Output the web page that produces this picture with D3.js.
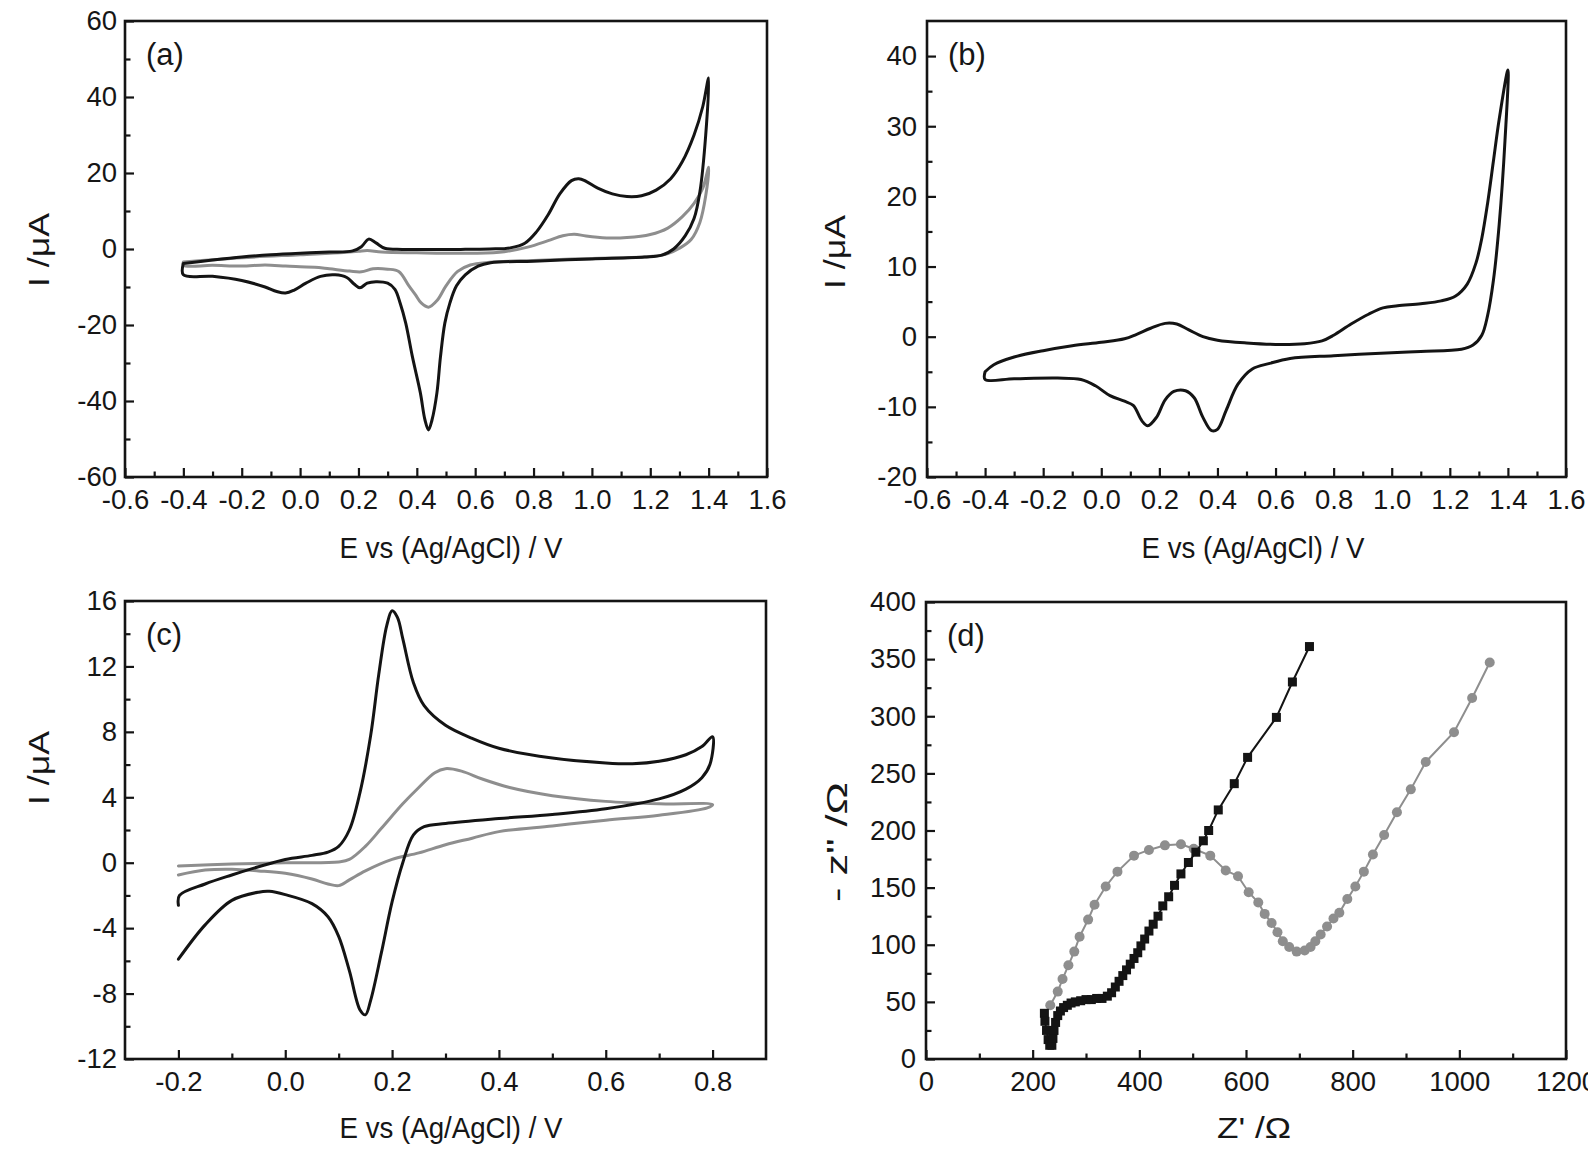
<!DOCTYPE html>
<html><head><meta charset="utf-8">
<script src="https://cdn.jsdelivr.net/npm/d3@7"></script>
<style>
body{margin:0;background:#fff}
text{font-family:"Liberation Sans",Arial,sans-serif;fill:#161616}
</style>
</head><body>
<svg id="chart" width="1588" height="1150"></svg>
<script>
// ---------------- DATA ----------------
// Panel (a): CV, black and gray
const aBlackE = [-0.40,-0.30,-0.20,-0.10,0.00,0.10,0.18,0.21,0.235,0.26,0.29,0.35,0.45,0.55,0.65,0.72,0.77,0.81,0.85,0.89,0.93,0.955,0.98,1.02,1.07,1.12,1.17,1.22,1.27,1.31,1.35,1.38,1.40,
  1.39,1.37,1.35,1.32,1.28,1.24,1.18,1.00,0.80,0.653,0.61,0.566,0.536,0.513,0.496,0.481,0.469,0.452,0.44,0.428,0.412,0.385,0.362,0.343,0.325,0.30,0.26,0.23,0.205,0.185,0.16,0.12,0.07,0.02,-0.02,-0.05,-0.08,-0.12,-0.20,-0.30,-0.40,-0.40];
const aBlackI = [-3.8,-2.9,-2.1,-1.5,-1.1,-0.8,-0.5,0.6,2.6,1.6,0.2,-0.1,-0.1,-0.1,0,0.3,1.5,4.5,9,14.5,18,18.5,17.8,16,14.5,13.8,14,15.5,18.5,23,30,37.5,45,
  30,15,8,3.5,0,-1.6,-2.1,-2.6,-3.2,-3.6,-4.5,-6.8,-9.7,-14.3,-19.5,-28.4,-37.8,-45,-47.6,-45,-37.8,-28.4,-19.5,-14.3,-10.6,-9.0,-8.6,-9,-10.2,-9.2,-7.5,-6.8,-7.2,-9,-10.8,-11.6,-11.2,-10,-8.3,-7.2,-6.8,-3.8];
const aGrayE = [-0.40,-0.20,0.00,0.15,0.20,0.23,0.28,0.40,0.60,0.70,0.78,0.85,0.90,0.94,0.98,1.05,1.12,1.20,1.26,1.31,1.35,1.38,1.40,
  1.39,1.37,1.34,1.30,1.26,1.20,1.00,0.80,0.65,0.583,0.54,0.50,0.47,0.44,0.415,0.395,0.373,0.338,0.30,0.25,0.21,0.17,0.10,0.05,0.00,-0.05,-0.12,-0.20,-0.30,-0.40,-0.40];
const aGrayI = [-3.4,-2.3,-1.5,-0.9,-0.6,-0.4,-0.8,-1.0,-1.1,-0.7,0.5,2.2,3.5,3.9,3.4,2.9,3.0,3.8,5.5,8.5,12,16,21.5,
  14,7,2.5,0.2,-1.2,-2.0,-2.5,-3.0,-3.5,-4.2,-5.9,-9.7,-13.5,-15.3,-14.2,-12,-9.7,-5.9,-5.3,-5.2,-6.0,-5.8,-5.2,-4.8,-4.7,-4.5,-4.2,-4.5,-4.3,-4.3,-3.4];

// Panel (b): CV, black
const bBlackE = [-0.40,-0.37,-0.30,-0.20,-0.10,0.00,0.08,0.12,0.17,0.22,0.26,0.30,0.35,0.40,0.50,0.60,0.70,0.76,0.80,0.86,0.92,0.97,1.02,1.10,1.17,1.22,1.26,1.29,1.31,1.33,1.35,1.37,1.40,
  1.39,1.37,1.35,1.33,1.31,1.28,1.24,1.10,1.00,0.80,0.65,0.58,0.52,0.47,0.43,0.40,0.38,0.35,0.32,0.29,0.25,0.22,0.19,0.16,0.14,0.11,0.08,0.03,-0.02,-0.07,-0.15,-0.30,-0.40,-0.40];
const bBlackI = [-5.0,-4.0,-2.9,-2.0,-1.3,-0.8,-0.3,0.3,1.2,1.9,1.8,1.0,0,-0.5,-0.9,-1.1,-1.0,-0.6,0.2,1.8,3.2,4.1,4.4,4.7,5.1,5.8,7.5,10.5,14,19,25,31,38,
  28,16,8,3,0.2,-1.2,-1.8,-2.1,-2.3,-2.7,-3.1,-3.8,-4.6,-6.8,-10.5,-13.2,-13.4,-11.5,-8.7,-7.7,-7.8,-9.0,-11.5,-12.7,-12.0,-9.8,-9.2,-8.4,-7.0,-6.1,-5.9,-6.0,-6.1,-5.0];

// Panel (c): CV, black and gray
const cBlackE = [-0.20,-0.198,-0.15,-0.10,-0.05,0.00,0.05,0.08,0.10,0.12,0.14,0.16,0.175,0.19,0.20,0.21,0.22,0.24,0.26,0.30,0.35,0.40,0.50,0.60,0.65,0.70,0.75,0.78,0.80,
  0.795,0.78,0.75,0.70,0.60,0.50,0.40,0.30,0.26,0.24,0.22,0.20,0.18,0.16,0.15,0.14,0.12,0.10,0.08,0.05,0.00,-0.03,-0.05,-0.10,-0.15,-0.20];
const cBlackI = [-2.6,-2.0,-1.3,-0.75,-0.25,0.2,0.45,0.65,1.0,2.0,4.3,7.8,11.5,14.5,15.4,15.0,13.7,11.0,9.6,8.4,7.6,7.0,6.4,6.1,6.05,6.2,6.6,7.1,7.7,
  6.0,5.2,4.5,3.9,3.3,2.95,2.7,2.4,2.2,1.7,0.0,-2.4,-5.5,-8.4,-9.3,-9.0,-6.6,-4.5,-3.3,-2.5,-1.95,-1.75,-1.8,-2.3,-3.8,-5.9];
const cGrayE = [-0.20,-0.10,0.00,0.10,0.12,0.15,0.18,0.22,0.25,0.28,0.30,0.33,0.37,0.42,0.50,0.60,0.70,0.80,
  0.79,0.70,0.60,0.50,0.40,0.35,0.30,0.25,0.20,0.15,0.12,0.10,0.08,0.05,0.00,-0.05,-0.10,-0.15,-0.20];
const cGrayI = [-0.2,-0.08,0.0,0.05,0.2,1.0,2.1,3.6,4.6,5.5,5.75,5.6,5.1,4.6,4.1,3.75,3.6,3.55,
  3.35,2.9,2.6,2.25,1.9,1.5,1.1,0.6,0.2,-0.5,-1.05,-1.4,-1.3,-1.0,-0.65,-0.5,-0.4,-0.45,-0.75];

// Panel (d): Nyquist, black squares and gray circles
const dBlackRe = [222,223,226,229,232,236,238,240,243,247,252,258,265,272,280,290,300,310,320,330,340,348,355,362,369,376,383,390,397,403,410,418,426,435,444,455,466,478,492,506,520,530,548,578,603,657,687,719];
const dBlackIm = [40,33,25,17,12,12,18,25,32,38,42,45,47,49,50,51,52,52,53,53,55,58,63,68,73,78,83,88,93,99,105,112,118,125,134,142,152,162,172,181,191,200,218,241,264,299,330,361];
const dGrayRe = [233,247,256,267,278,288,304,316,337,359,390,418,448,478,502,533,562,585,605,623,635,648,659,669,681,695,710,721,730,740,752,764,775,790,805,821,838,859,883,909,937,990,1024,1057];
const dGrayIm = [47,59,70,82,94,107,122,135,151,164,178,183,187,188,184,178,165,160,146,137,127,119,111,103,98,94,95,98,103,109,116,123,128,140,151,164,179,196,216,236,260,286,316,347];

// Tick values
const abXMajor = [-0.6,-0.4,-0.2,0.0,0.2,0.4,0.6,0.8,1.0,1.2,1.4,1.6];
const abXMinor = [-0.5,-0.3,-0.1,0.1,0.3,0.5,0.7,0.9,1.1,1.3,1.5];
const aYMajor = [-60,-40,-20,0,20,40,60];
const aYMinor = [-50,-30,-10,10,30,50];
const bYMajor = [-20,-10,0,10,20,30,40];
const bYMinor = [-15,-5,5,15,25,35];
const cXMajor = [-0.2,0.0,0.2,0.4,0.6,0.8];
const cXMinor = [-0.1,0.1,0.3,0.5,0.7];
const cYMajor = [-12,-8,-4,0,4,8,12,16];
const cYMinor = [-10,-6,-2,2,6,10,14];
const dXMajor = [0,200,400,600,800,1000,1200];
const dXMinor = [100,300,500,700,900,1100];
const dYMajor = [0,50,100,150,200,250,300,350,400];
const dYMinor = [25,75,125,175,225,275,325,375];

const BLACK = "#141414", GRAY = "#8e8e8e";
const fmt1 = d => d.toFixed(1), fmt0 = d => String(Math.round(d));

// ---------------- LAYOUT ----------------
const panels = [
 {label:"(a)", box:[125,767,21,477], xd:[-0.6,1.6], yd:[-60,60], xMaj:abXMajor, xMin:abXMinor, yMaj:aYMajor, yMin:aYMinor, xf:fmt1, yf:fmt0,
  xt:"E vs (Ag/AgCl) / V", yt:"I /\u03bcA", xtPos:[451,558], ytPos:[38,250], ytLen:74, xtLen:223, yPad:8,
  series:[{E:aGrayE,I:aGrayI,c:GRAY},{E:aBlackE,I:aBlackI,c:BLACK}]},
 {label:"(b)", box:[927,1566,21,477], xd:[-0.6,1.6], yd:[-20,45], xMaj:abXMajor, xMin:abXMinor, yMaj:bYMajor, yMin:bYMinor, xf:fmt1, yf:fmt0,
  xt:"E vs (Ag/AgCl) / V", yt:"I /\u03bcA", xtPos:[1253,558], ytPos:[834,252], ytLen:74, xtLen:223, yPad:10,
  series:[{E:bBlackE,I:bBlackI,c:BLACK}]},
 {label:"(c)", box:[125,766,601,1059], xd:[-0.3,0.9], yd:[-12,16], xMaj:cXMajor, xMin:cXMinor, yMaj:cYMajor, yMin:cYMinor, xf:fmt1, yf:fmt0,
  xt:"E vs (Ag/AgCl) / V", yt:"I /\u03bcA", xtPos:[451,1138], ytPos:[38,768], ytLen:74, xtLen:223, yPad:8,
  series:[{E:cGrayE,I:cGrayI,c:GRAY},{E:cBlackE,I:cBlackI,c:BLACK}]},
 {label:"(d)", box:[926,1566,602,1059], xd:[0,1200], yd:[0,400], xMaj:dXMajor, xMin:dXMinor, yMaj:dYMajor, yMin:dYMinor, xf:fmt0, yf:fmt0,
  xt:"Z' /\u03a9", yt:"- z\" /\u03a9", xtPos:[1254,1138], ytPos:[836,842], ytLen:120, xtLen:74, yPad:10,
  nyq:true}
];

const svg = d3.select("#chart");

panels.forEach(p => {
  const [x0,x1,y0,y1] = p.box;
  const x = d3.scaleLinear().domain(p.xd).range([x0,x1]);
  const y = d3.scaleLinear().domain(p.yd).range([y1,y0]);
  const g = svg.append("g");

  // data
  if (!p.nyq) {
    const line = d3.line().x(d=>x(d[0])).y(d=>y(d[1])).curve(d3.curveCatmullRom.alpha(0.5));
    p.series.forEach(s => {
      const pts = s.E.map((e,i)=>[e,s.I[i]]);
      g.append("path").attr("d", line(pts)).attr("fill","none").attr("stroke",s.c)
        .attr("stroke-width",3).attr("stroke-linejoin","round").attr("stroke-linecap","round");
    });
  } else {
    const line = d3.line().x(d=>x(d[0])).y(d=>y(d[1]));
    const gp = dGrayRe.map((r,i)=>[r,dGrayIm[i]]);
    const bp = dBlackRe.map((r,i)=>[r,dBlackIm[i]]);
    g.append("path").attr("d",line(gp)).attr("fill","none").attr("stroke",GRAY).attr("stroke-width",2);
    g.selectAll(".gc").data(gp).enter().append("circle")
      .attr("cx",d=>x(d[0])).attr("cy",d=>y(d[1])).attr("r",5).attr("fill",GRAY);
    g.append("path").attr("d",line(bp)).attr("fill","none").attr("stroke",BLACK).attr("stroke-width",2);
    const sz = 9;
    g.selectAll(".bs").data(bp).enter().append("rect")
      .attr("x",d=>x(d[0])-sz/2).attr("y",d=>y(d[1])-sz/2).attr("width",sz).attr("height",sz).attr("fill",BLACK);
  }

  // axes
  const xa = g.append("g").attr("transform",`translate(0,${y1})`)
    .call(d3.axisBottom(x).tickValues(p.xMaj).tickSize(-9).tickPadding(12).tickFormat(p.xf));
  const xm = g.append("g").attr("transform",`translate(0,${y1})`)
    .call(d3.axisBottom(x).tickValues(p.xMin).tickSize(-5.5).tickFormat(""));
  const ya = g.append("g").attr("transform",`translate(${x0},0)`)
    .call(d3.axisLeft(y).tickValues(p.yMaj).tickSize(-9).tickPadding(p.yPad).tickFormat(p.yf));
  const ym = g.append("g").attr("transform",`translate(${x0},0)`)
    .call(d3.axisLeft(y).tickValues(p.yMin).tickSize(-5.5).tickFormat(""));
  [xa,xm,ya,ym].forEach(a=>{
    a.select(".domain").remove();
    a.selectAll("line").attr("stroke",BLACK).attr("stroke-width",2.2);
    a.selectAll("text").attr("font-size",27.5).attr("font-family","'Liberation Sans',Arial,sans-serif").attr("fill","#161616");
  });

  // frame
  g.append("rect").attr("x",x0).attr("y",y0).attr("width",x1-x0).attr("height",y1-y0)
    .attr("fill","none").attr("stroke",BLACK).attr("stroke-width",2.6);

  // panel label
  g.append("text").attr("x",x0+21).attr("y",y0+44).attr("font-size",31).text(p.label);

  // axis titles
  g.append("text").attr("x",p.xtPos[0]).attr("y",p.xtPos[1]).attr("text-anchor","middle")
    .attr("font-size",29).attr("textLength",p.xtLen).attr("lengthAdjust","spacingAndGlyphs").text(p.xt);
  g.append("text").attr("transform",`translate(${p.ytPos[0]},${p.ytPos[1]}) rotate(-90)`)
    .attr("text-anchor","middle").attr("dy","0.35em").attr("font-size",30)
    .attr("textLength",p.ytLen).attr("lengthAdjust","spacingAndGlyphs").text(p.yt);
});
</script>
</body></html>
